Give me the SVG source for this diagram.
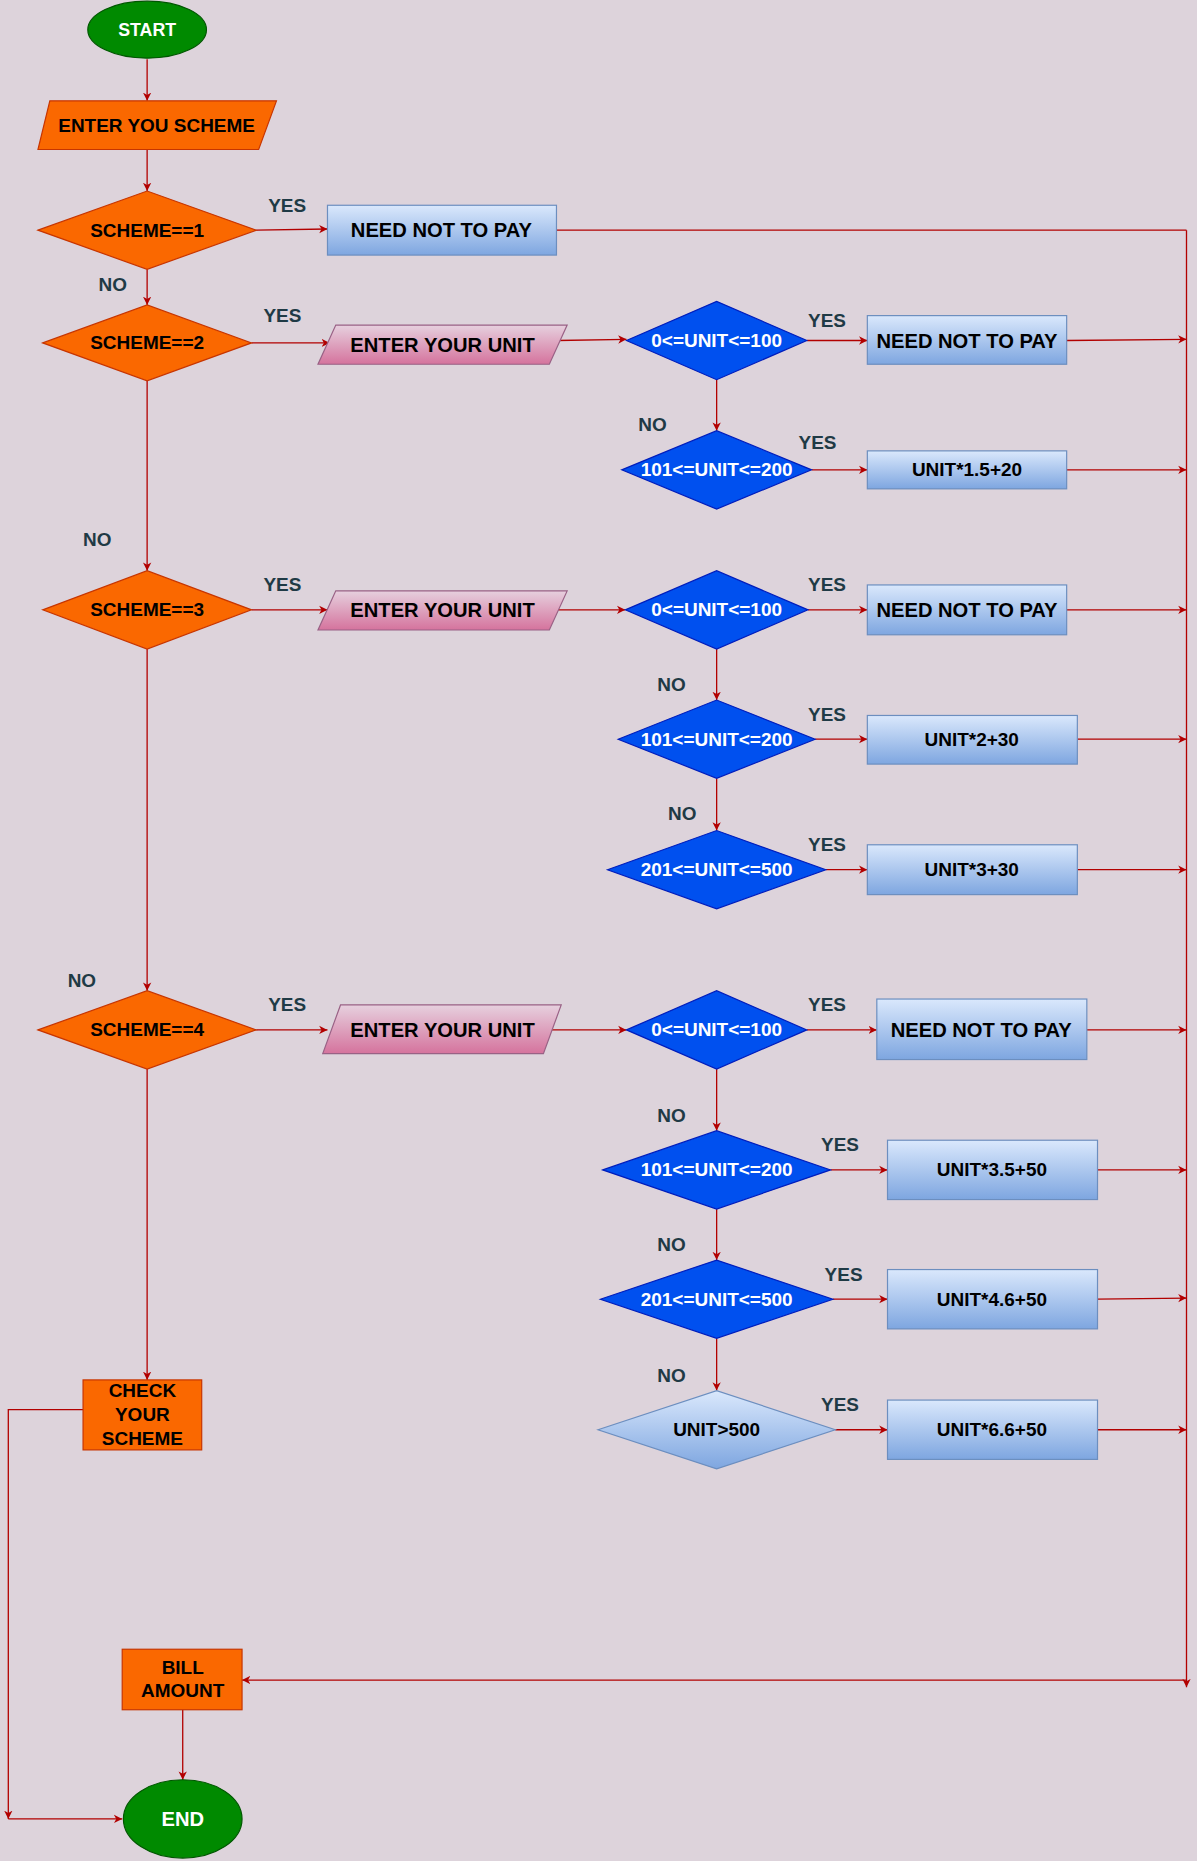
<svg xmlns="http://www.w3.org/2000/svg" width="1197" height="1861" viewBox="0 0 1197 1861">
<defs>
<marker id="a" markerWidth="8" markerHeight="8" refX="7" refY="4" orient="auto" markerUnits="userSpaceOnUse"><path d="M0,0.5 L7,4 L0,7.5 L2,4 Z" fill="#b20000"/></marker>
<linearGradient id="bl" x1="0" y1="0" x2="0" y2="1"><stop offset="0" stop-color="#dae8fc"/><stop offset="1" stop-color="#7ea6e0"/></linearGradient>
<linearGradient id="pk" x1="0" y1="0" x2="0" y2="1"><stop offset="0" stop-color="#e6d0de"/><stop offset="1" stop-color="#d5739d"/></linearGradient>
<style>
.c{fill:none;stroke:#b20000;stroke-width:1.1;marker-end:url(#a)}
.l{fill:none;stroke:#b20000;stroke-width:1.1}
.or{fill:#fa6800;stroke:#c73500}
.gr{fill:#008a00;stroke:#005700}
.bd{fill:#0050ef;stroke:#001dbc}
.bx{fill:url(#bl);stroke:#6c8ebf}
.pp{fill:url(#pk);stroke:#996185}
text{font-family:"Liberation Sans",Arial,sans-serif;font-weight:bold;font-size:16px;text-anchor:middle;dominant-baseline:central}
.w{fill:#fff}.k{fill:#000}.lb{fill:#1f3a45;font-size:16px}
</style>
</defs>
<rect width="1197" height="1861" fill="#ddd3db"/>
<g transform="scale(1.1865)">
<g id="connectors">
<path class="c" d="M124,50V85"/><path class="c" d="M124,126V161"/>
<path class="c" d="M216,194L276,193"/><path class="c" d="M124,227V257"/>
<path class="l" d="M469,194H1000"/><path class="c" d="M1000,194V1422"/>
<path class="c" d="M212,289H278"/><path class="c" d="M470,287L528,286"/><path class="c" d="M680,287H731"/><path class="c" d="M899,287L1000,286"/>
<path class="c" d="M604,320V363"/><path class="c" d="M684,396H731"/><path class="c" d="M899,396H1000"/>
<path class="c" d="M124,321V481"/>
<path class="c" d="M212,514H276"/><path class="c" d="M466,514H527"/><path class="c" d="M681,514H731"/><path class="c" d="M899,514H1000"/>
<path class="c" d="M604,547V590"/><path class="c" d="M687,623H731"/><path class="c" d="M908,623L1000,623"/>
<path class="c" d="M604,656V700"/><path class="c" d="M696,733H731"/><path class="c" d="M908,733H1000"/>
<path class="c" d="M124,547V835"/>
<path class="c" d="M216,868H276"/><path class="c" d="M464,868H528"/><path class="c" d="M680,868H739"/><path class="c" d="M916,868H1000"/>
<path class="c" d="M604,901V953"/><path class="c" d="M700,986H748"/><path class="c" d="M925,986H1000"/>
<path class="c" d="M604,1019V1062"/><path class="c" d="M702,1095H748"/><path class="c" d="M925,1095L1000,1094"/>
<path class="c" d="M604,1128V1172"/><path class="c" d="M704,1205H748"/><path class="c" d="M925,1205H1000"/>
<path class="c" d="M124,901V1163"/>
<path class="c" d="M1000,1416H204"/>
<path class="c" d="M70,1188H7V1533"/><path class="c" d="M7,1533H103"/>
<path class="c" d="M154,1441V1500"/>
</g>
<g id="labels" class="lb">
<text class="lb" x="242" y="173">YES</text><text class="lb" x="95" y="240">NO</text>
<text class="lb" x="238" y="266">YES</text><text class="lb" x="697" y="270">YES</text>
<text class="lb" x="550" y="358">NO</text><text class="lb" x="689" y="373">YES</text>
<text class="lb" x="82" y="455">NO</text><text class="lb" x="238" y="493">YES</text><text class="lb" x="697" y="493">YES</text>
<text class="lb" x="566" y="577">NO</text><text class="lb" x="697" y="602">YES</text>
<text class="lb" x="575" y="686">NO</text><text class="lb" x="697" y="712">YES</text>
<text class="lb" x="69" y="826">NO</text><text class="lb" x="242" y="847">YES</text><text class="lb" x="697" y="847">YES</text>
<text class="lb" x="566" y="940">NO</text><text class="lb" x="708" y="965">YES</text>
<text class="lb" x="566" y="1049">NO</text><text class="lb" x="711" y="1074">YES</text>
<text class="lb" x="566" y="1159">NO</text><text class="lb" x="708" y="1184">YES</text>
</g>
<g id="start"><ellipse class="gr" cx="124" cy="25" rx="50" ry="24"/><text class="w" x="124" y="25" style="font-size:15px">START</text></g>
<g id="scheme-in"><path class="or" d="M42,85H233L218,126H32Z"/><text class="k" x="132" y="106">ENTER YOU SCHEME</text></g>
<g id="s1"><path class="or" d="M32,194L124,161L216,194L124,227Z"/><text class="k" x="124" y="194">SCHEME==1</text></g>
<g id="r1"><rect class="bx" x="276" y="173" width="193" height="42"/><text class="k" x="372" y="194" style="font-size:17px">NEED NOT TO PAY</text></g>
<g id="s2"><path class="or" d="M36,289L124,257L212,289L124,321Z"/><text class="k" x="124" y="289">SCHEME==2</text></g>
<g id="u2"><path class="pp" d="M283,274H478L463,307H268Z"/><text class="k" x="373" y="291" style="font-size:17px">ENTER YOUR UNIT</text></g>
<g id="d21"><path class="bd" d="M528,287L604,254L680,287L604,320Z"/><text class="w" x="604" y="287">0&lt;=UNIT&lt;=100</text></g>
<g id="r21"><rect class="bx" x="731" y="266" width="168" height="41"/><text class="k" x="815" y="287" style="font-size:17px">NEED NOT TO PAY</text></g>
<g id="d22"><path class="bd" d="M524,396L604,363L684,396L604,429Z"/><text class="w" x="604" y="396">101&lt;=UNIT&lt;=200</text></g>
<g id="r22"><rect class="bx" x="731" y="380" width="168" height="32"/><text class="k" x="815" y="396">UNIT*1.5+20</text></g>
<g id="s3"><path class="or" d="M36,514L124,481L212,514L124,547Z"/><text class="k" x="124" y="514">SCHEME==3</text></g>
<g id="u3"><path class="pp" d="M283,498H478L463,531H268Z"/><text class="k" x="373" y="514" style="font-size:17px">ENTER YOUR UNIT</text></g>
<g id="d31"><path class="bd" d="M527,514L604,481L681,514L604,547Z"/><text class="w" x="604" y="514">0&lt;=UNIT&lt;=100</text></g>
<g id="r31"><rect class="bx" x="731" y="493" width="168" height="42"/><text class="k" x="815" y="514" style="font-size:17px">NEED NOT TO PAY</text></g>
<g id="d32"><path class="bd" d="M521,623L604,590L687,623L604,656Z"/><text class="w" x="604" y="623">101&lt;=UNIT&lt;=200</text></g>
<g id="r32"><rect class="bx" x="731" y="603" width="177" height="41"/><text class="k" x="819" y="623">UNIT*2+30</text></g>
<g id="d33"><path class="bd" d="M512,733L604,700L696,733L604,766Z"/><text class="w" x="604" y="733">201&lt;=UNIT&lt;=500</text></g>
<g id="r33"><rect class="bx" x="731" y="712" width="177" height="42"/><text class="k" x="819" y="733">UNIT*3+30</text></g>
<g id="s4"><path class="or" d="M32,868L124,835L216,868L124,901Z"/><text class="k" x="124" y="868">SCHEME==4</text></g>
<g id="u4"><path class="pp" d="M287,847H473L458,888H272Z"/><text class="k" x="373" y="868" style="font-size:17px">ENTER YOUR UNIT</text></g>
<g id="d41"><path class="bd" d="M528,868L604,835L680,868L604,901Z"/><text class="w" x="604" y="868">0&lt;=UNIT&lt;=100</text></g>
<g id="r41"><rect class="bx" x="739" y="842" width="177" height="51"/><text class="k" x="827" y="868" style="font-size:17px">NEED NOT TO PAY</text></g>
<g id="d42"><path class="bd" d="M508,986L604,953L700,986L604,1019Z"/><text class="w" x="604" y="986">101&lt;=UNIT&lt;=200</text></g>
<g id="r42"><rect class="bx" x="748" y="961" width="177" height="50"/><text class="k" x="836" y="986">UNIT*3.5+50</text></g>
<g id="d43"><path class="bd" d="M506,1095L604,1062L702,1095L604,1128Z"/><text class="w" x="604" y="1095">201&lt;=UNIT&lt;=500</text></g>
<g id="r43"><rect class="bx" x="748" y="1070" width="177" height="50"/><text class="k" x="836" y="1095">UNIT*4.6+50</text></g>
<g id="d44"><path class="bx" d="M504,1205L604,1172L704,1205L604,1238Z"/><text class="k" x="604" y="1205">UNIT&gt;500</text></g>
<g id="r44"><rect class="bx" x="748" y="1180" width="177" height="50"/><text class="k" x="836" y="1205">UNIT*6.6+50</text></g>
<g id="check"><rect class="or" x="70" y="1163" width="100" height="59"/><text class="k" x="120" y="1172">CHECK</text><text class="k" x="120" y="1192">YOUR</text><text class="k" x="120" y="1212">SCHEME</text></g>
<g id="bill"><rect class="or" x="103" y="1390" width="101" height="51"/><text class="k" x="154" y="1405">BILL</text><text class="k" x="154" y="1425">AMOUNT</text></g>
<g id="end"><ellipse class="gr" cx="154" cy="1533" rx="50" ry="33"/><text class="w" x="154" y="1533" style="font-size:17px">END</text></g>
</g>
</svg>
